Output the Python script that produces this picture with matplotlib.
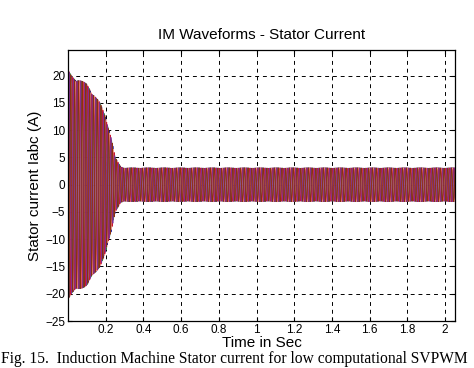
import numpy as np
import matplotlib.pyplot as plt

# envelope of the stator current (time s, peak A)
env_t = [0.0, 0.02, 0.05, 0.10, 0.13, 0.17, 0.20, 0.23, 0.25, 0.28, 0.30, 2.05]
env_a = [21.0, 20.0, 19.5, 18.5, 17.0, 15.0, 12.5, 8.5, 5.0, 3.3, 3.1, 3.1]
freq_hz = 50
sample_dt = 0.0017
phase_deg = [120, 240, 60, 0, 300, 180]
colors = ['#2020a0', '#3a8a4a', '#f0a090', '#c81830', '#803090', '#8a3010']
widths = [0.7, 0.6, 0.5, 0.6, 0.6, 0.6]

xticks = [0.2, 0.4, 0.6, 0.8, 1, 1.2, 1.4, 1.6, 1.8, 2]
xticklabels = ['0.2', '0.4', '0.6', '0.8', '1', '1.2', '1.4', '1.6', '1.8', '2']
yticks = [-25, -20, -15, -10, -5, 0, 5, 10, 15, 20]

plt.rcParams['font.family'] = ['Liberation Sans', 'DejaVu Sans']

fig = plt.figure(figsize=(4.74, 3.68), dpi=100)
ax = fig.add_axes([68 / 474, 1 - 321 / 368, 387 / 474, 271 / 368])

t = np.arange(0, 2.06, sample_dt)
amp = np.interp(t, env_t, env_a)
for ph, c, w in zip(phase_deg, colors, widths):
    ax.plot(t, amp * np.sin(2 * np.pi * freq_hz * t + np.radians(ph)), color=c, lw=w)

ax.set_xlim(0, 2.053)
ax.set_ylim(-25, 24.7)
ax.set_xticks(xticks)
ax.set_xticklabels(xticklabels)
ax.set_yticks(yticks)
ax.tick_params(direction='in', top=True, right=True, labelsize=8.5, length=3, pad=2)
ax.grid(True, color='black', linestyle=(0, (4, 4)), linewidth=0.7)
for s in ax.spines.values():
    s.set_linewidth(0.9)

ax.set_title('IM Waveforms - Stator Current', fontsize=11, pad=8)
ax.set_xlabel('Time in Sec', fontsize=11, labelpad=0)
ax.set_ylabel('Stator current Iabc (A)', fontsize=11, labelpad=2)

fig.text(0.003, 0.002, 'Fig. 15.  Induction Machine Stator current for low computational SVPWM',
         family=['Liberation Serif'], fontsize=11.2, va='bottom')

fig.savefig('out.png', dpi=100)
